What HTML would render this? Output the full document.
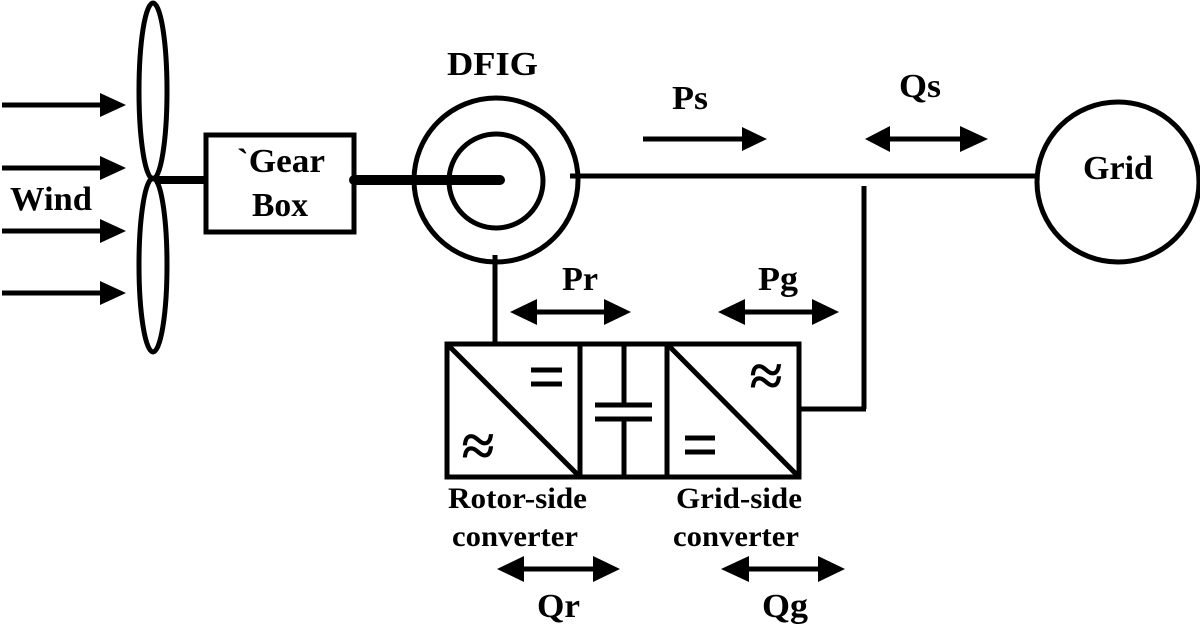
<!DOCTYPE html>
<html><head><style>html,body{margin:0;padding:0;background:#fff}svg{display:block}</style></head>
<body>
<svg width="1200" height="630" viewBox="0 0 1200 630" xmlns="http://www.w3.org/2000/svg">
<g fill="none" stroke="#000" stroke-width="5">
<line x1="2" y1="105" x2="110" y2="105"/>
<line x1="2" y1="168" x2="110" y2="168"/>
<line x1="2" y1="231" x2="110" y2="231"/>
<line x1="2" y1="293" x2="110" y2="293"/>
<ellipse cx="153" cy="91" rx="14" ry="88"/>
<ellipse cx="153" cy="265" rx="14" ry="87"/>
<line x1="155" y1="180" x2="206" y2="180" stroke-width="8"/>
<line x1="354" y1="180" x2="500" y2="180" stroke-width="10" stroke-linecap="round"/>
<rect x="206" y="135" width="148" height="97"/>
<circle cx="496" cy="180" r="82"/>
<circle cx="496" cy="181" r="47"/>
<line x1="570" y1="176" x2="1037" y2="176"/>
<ellipse cx="1118" cy="182" rx="81" ry="80"/>
<line x1="864" y1="186" x2="864" y2="409"/>
<line x1="799" y1="409" x2="866" y2="409"/>
<line x1="495" y1="255" x2="495" y2="344"/>
<rect x="447" y="344" width="352" height="133"/>
<line x1="580" y1="344" x2="580" y2="477"/>
<line x1="667" y1="344" x2="667" y2="477"/>
<line x1="449" y1="346" x2="578" y2="475"/>
<line x1="669" y1="346" x2="797" y2="475"/>
<line x1="624" y1="344" x2="624" y2="405"/>
<line x1="624" y1="419" x2="624" y2="477"/>
<line x1="595" y1="405" x2="652" y2="405"/>
<line x1="595" y1="419" x2="652" y2="419"/>
<line x1="531" y1="370" x2="562" y2="370"/>
<line x1="531" y1="384" x2="562" y2="384"/>
<line x1="685" y1="438" x2="715" y2="438"/>
<line x1="685" y1="452" x2="715" y2="452"/>
</g>
<g fill="#000">
<polygon points="100,93 126,105 100,117"/>
<polygon points="100,156 126,168 100,180"/>
<polygon points="100,219 126,231 100,243"/>
<polygon points="100,281 126,293 100,305"/>
</g>
<g stroke="#000" stroke-width="5" fill="#000">
<line x1="643" y1="139" x2="748" y2="139"/><polygon points="742,127 767,139 742,151" stroke="none"/>
<line x1="880" y1="139" x2="970" y2="139"/><polygon points="890,126 865,139 890,152" stroke="none"/><polygon points="960,126 988,139 960,152" stroke="none"/>
<line x1="525" y1="312" x2="615" y2="312"/><polygon points="537,299 510,312 537,325" stroke="none"/><polygon points="604,299 631,312 604,325" stroke="none"/>
<line x1="733" y1="312" x2="823" y2="312"/><polygon points="745,299 718,312 745,325" stroke="none"/><polygon points="812,299 839,312 812,325" stroke="none"/>
<line x1="510" y1="569" x2="605" y2="569"/><polygon points="524,556 497,569 524,582" stroke="none"/><polygon points="593,556 620,569 593,582" stroke="none"/>
<line x1="735" y1="569" x2="830" y2="569"/><polygon points="749,556 721,569 749,582" stroke="none"/><polygon points="818,556 845,569 818,582" stroke="none"/>
</g>
<g font-family="Liberation Serif, serif" font-weight="bold" font-size="34" fill="#000" lengthAdjust="spacingAndGlyphs">
<text x="10" y="210" textLength="82" lengthAdjust="spacingAndGlyphs">Wind</text>
<text x="237" y="172" textLength="88" lengthAdjust="spacingAndGlyphs">`Gear</text>
<text x="252" y="216" textLength="56" lengthAdjust="spacingAndGlyphs">Box</text>
<text x="447" y="75" textLength="91" lengthAdjust="spacingAndGlyphs">DFIG</text>
<text x="672" y="109" textLength="36" lengthAdjust="spacingAndGlyphs">Ps</text>
<text x="899" y="97" textLength="42" lengthAdjust="spacingAndGlyphs">Qs</text>
<text x="1083" y="179" textLength="70" lengthAdjust="spacingAndGlyphs">Grid</text>
<text x="562" y="290" textLength="36" lengthAdjust="spacingAndGlyphs">Pr</text>
<text x="758" y="290" textLength="40" lengthAdjust="spacingAndGlyphs">Pg</text>
<text x="448" y="508" font-size="30" textLength="139" lengthAdjust="spacingAndGlyphs">Rotor-side</text>
<text x="452" y="546" font-size="30" textLength="126" lengthAdjust="spacingAndGlyphs">converter</text>
<text x="676" y="508" font-size="30" textLength="126" lengthAdjust="spacingAndGlyphs">Grid-side</text>
<text x="673" y="546" font-size="30" textLength="126" lengthAdjust="spacingAndGlyphs">converter</text>
<text x="537" y="617" textLength="43" lengthAdjust="spacingAndGlyphs">Qr</text>
<text x="762" y="617" textLength="46" lengthAdjust="spacingAndGlyphs">Qg</text>
<text x="478" y="466" font-size="60" text-anchor="middle">≈</text>
<text x="766" y="396" font-size="60" text-anchor="middle">≈</text>
</g>
</svg>
</body></html>
